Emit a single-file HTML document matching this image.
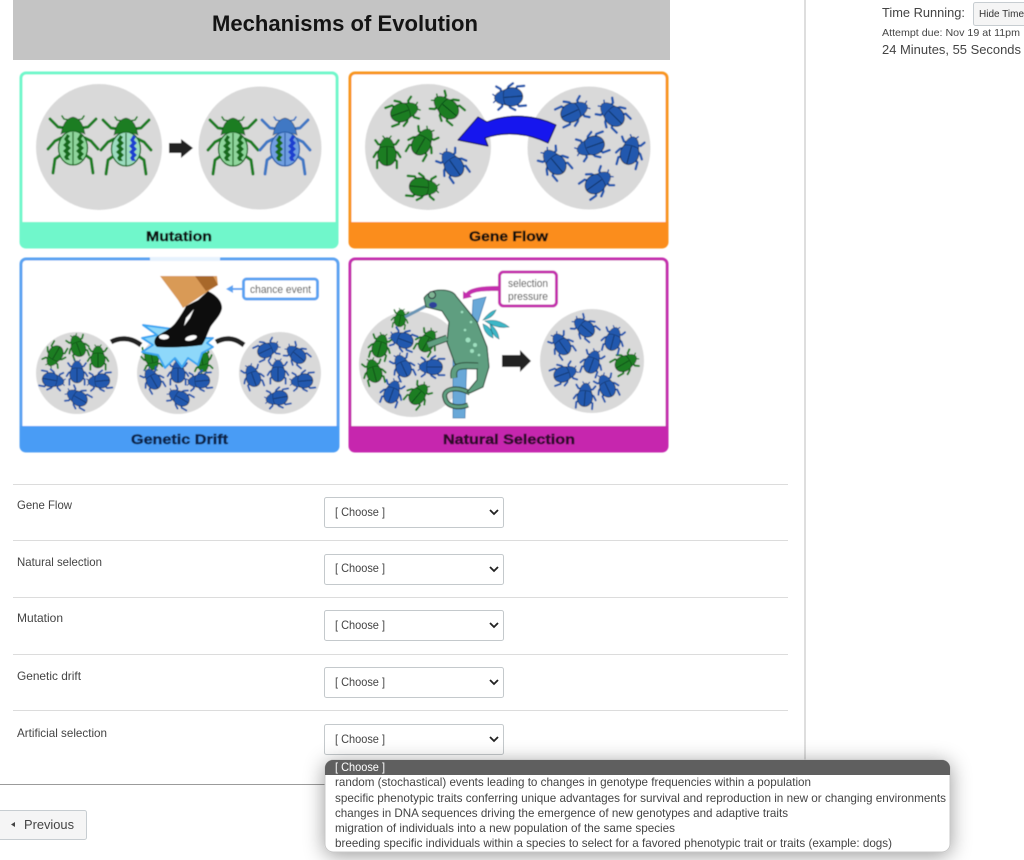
<!DOCTYPE html>
<html><head><meta charset="utf-8"><title>Mechanisms of Evolution</title>
<style>
html,body{margin:0;padding:0;background:#fff;width:1024px;height:860px;overflow:hidden}
svg{display:block}
text{font-family:"Liberation Sans",sans-serif;fill:#444}
.g{color:#1a7d24}.u{color:#2358ae}
.lab{font-weight:bold;font-size:14px;fill:#111;stroke:#111;stroke-width:.45;text-anchor:start}
.pt{fill:#d9d9d9}
</style></head><body>
<svg width="1024" height="860" viewBox="0 0 1024 860" xmlns="http://www.w3.org/2000/svg">
<defs>
<filter id="sh" x="-10%" y="-50%" width="120%" height="200%"><feDropShadow dx="0" dy="3" stdDeviation="10" flood-color="#000" flood-opacity=".4"/></filter>
<filter id="bl"><feGaussianBlur stdDeviation=".4"/></filter>
<g id="legs" fill="none" stroke="currentColor" stroke-width="3" stroke-linecap="round" stroke-linejoin="round">
<path d="M-8,-12 L-15,-13 L-23,-21"/><path d="M8,-12 L15,-13 L23,-21"/>
<path d="M-12,-2 L-18,1 L-25,9"/><path d="M12,-2 L18,1 L25,9"/>
<path d="M-11,14 L-18,19 L-20,33"/><path d="M11,14 L18,19 L20,33"/>
<path d="M-4,-20 L-9,-21 L-11,-24" stroke-width="1.6"/><path d="M4,-20 L9,-21 L11,-24" stroke-width="1.6"/>
</g>
<g id="legs2" fill="none" stroke="currentColor" stroke-width="4.2" stroke-linecap="round" stroke-linejoin="round">
<path d="M-8,-10 L-15,-11 L-20,-18"/><path d="M8,-10 L15,-11 L20,-18"/>
<path d="M-12,0 L-18,3 L-23,11"/><path d="M12,0 L18,3 L23,11"/>
<path d="M-11,14 L-17,18 L-17,30"/><path d="M11,14 L17,18 L17,30"/>
<path d="M-3,-20 L-7,-25" stroke-width="2.5"/><path d="M3,-20 L7,-25" stroke-width="2.5"/>
</g>
<g id="b"><g transform="translate(0,-4)">
<use href="#legs2"/>
<ellipse cx="0" cy="7" rx="16" ry="19" fill="currentColor" stroke="#000" stroke-opacity=".5" stroke-width="1.6"/>
<path d="M-13,-5 C-11,-16 -6,-22 0,-23 C6,-22 11,-16 13,-5 C6,-8 -6,-8 -13,-5Z" fill="currentColor" stroke="#000" stroke-opacity=".4" stroke-width="1.4"/>
<path d="M0,-6 V26" stroke="#000" stroke-opacity=".5" stroke-width="1.6"/>
</g></g>
<g id="bh">
<use href="#legs"/>
<path d="M-12,-6 C-10,-17 -6,-22 0,-23 C6,-22 10,-17 12,-6 C6,-9 -6,-9 -12,-6Z" fill="currentColor" stroke="#000" stroke-opacity=".3" stroke-width="1"/>
</g>
<path id="pat" d="M0,0 l3,2 -2,3 3,3 -3,3 3,3 -3,3 3,3 -3,3 2,3 h-4 l-2,-3 2,-3 -3,-3 3,-3 -3,-3 3,-3 -2,-3 2,-3z"/>
</defs>

<!-- right rail & rules -->
<line x1="805" y1="0" x2="805" y2="785" stroke="#bdbdbd" stroke-width="1"/>
<line x1="0" y1="784.5" x2="805" y2="784.5" stroke="#9b9b9b" stroke-width="1"/>

<!-- header -->
<rect x="13" y="0" width="657" height="60" fill="#c4c4c4"/>
<text x="212" y="31" font-size="22" font-weight="bold" style="fill:#141414" textLength="266" lengthAdjust="spacingAndGlyphs">Mechanisms of Evolution</text>

<g filter="url(#bl)">
<!-- Mutation panel -->
<rect x="21" y="73" width="316" height="174" rx="5" fill="#fff" stroke="#6ff7cb" stroke-width="3"/>
<path d="M20,222 H338 V243 a5,5 0 0 1 -5,5 H25 a5,5 0 0 1 -5,-5Z" fill="#6ff7cb"/>
<circle class="pt" cx="99" cy="147" r="63"/><circle class="pt" cx="260" cy="148" r="61.5"/>
<g class="g">
 <g transform="translate(73,140)"><use href="#bh"/><ellipse cy="8" rx="14.5" ry="17" fill="#8fd69c" stroke="#17661f" stroke-width="1.3"/><path d="M0,-8V25" stroke="#17661f" stroke-width="1.2"/><use href="#pat" x="-6" y="-6" fill="#176b1f"/><use href="#pat" x="7" y="-6" fill="#176b1f"/></g>
 <g transform="translate(126,141)"><use href="#bh"/><ellipse cy="8" rx="14.5" ry="17" fill="#9cdcc0" stroke="#17661f" stroke-width="1.3"/><path d="M0,-8V25" stroke="#17661f" stroke-width="1.2"/><use href="#pat" x="-6" y="-6" fill="#176b1f"/><use href="#pat" x="7" y="-6" fill="#1a3fd0"/></g>
 <g transform="translate(233,141)"><use href="#bh"/><ellipse cy="8" rx="14.5" ry="17" fill="#8fd69c" stroke="#17661f" stroke-width="1.3"/><path d="M0,-8V25" stroke="#17661f" stroke-width="1.2"/><use href="#pat" x="-6" y="-6" fill="#176b1f"/><use href="#pat" x="7" y="-6" fill="#176b1f"/></g>
</g>
<g transform="translate(285,141)" style="color:#3f78c4"><use href="#bh"/><ellipse cy="8" rx="14.5" ry="17" fill="#6f9ee0" stroke="#2a5ea8" stroke-width="1.3"/><path d="M0,-8V25" stroke="#2a5ea8" stroke-width="1.2"/><use href="#pat" x="-6" y="-6" fill="#176b1f"/><use href="#pat" x="7" y="-6" fill="#1a3fd0"/></g>
<path d="M169,143 H181 V139 L193,148 L181,158 V153 H169Z" fill="#222"/>
<text class="lab" x="146" y="241" textLength="66" lengthAdjust="spacingAndGlyphs">Mutation</text>

<!-- Gene Flow panel -->
<rect x="350" y="73" width="317" height="174" rx="5" fill="#fff" stroke="#f8951f" stroke-width="3"/>
<path d="M349,222 H668 V243 a5,5 0 0 1 -5,5 H354 a5,5 0 0 1 -5,-5Z" fill="#fb8d1e"/>
<circle class="pt" cx="428" cy="147" r="63"/><circle class="pt" cx="589" cy="148" r="61.5"/>
<g class="g">
<use href="#b" transform="translate(403,112) rotate(70) scale(.58)"/>
<use href="#b" transform="translate(447,108) rotate(-50) scale(.58)"/>
<use href="#b" transform="translate(422,143) rotate(30) scale(.58)"/>
<use href="#b" transform="translate(387,153) scale(.58)"/>
<use href="#b" transform="translate(422,187) rotate(95) scale(.58)"/>
</g>
<g class="u">
<use href="#b" transform="translate(453,165) rotate(-35) scale(.58)"/>
<use href="#b" transform="translate(510,97) rotate(-95) scale(.58)"/>
<use href="#b" transform="translate(573,112) rotate(65) scale(.58)"/>
<use href="#b" transform="translate(613,115) rotate(-45) scale(.58)"/>
<use href="#b" transform="translate(592,146) rotate(-110) scale(.58)"/>
<use href="#b" transform="translate(630,152) rotate(15) scale(.58)"/>
<use href="#b" transform="translate(555,163) rotate(-40) scale(.58)"/>
<use href="#b" transform="translate(597,183) rotate(55) scale(.58)"/>
</g>
<path d="M556,125 C535,115 510,113 487,122 L478,117 L458,140 L488,146 L485,138 C505,131 528,133 548,143Z" fill="#1717ee" stroke="#101060" stroke-width="1.2" stroke-linejoin="round"/>
<text class="lab" x="469" y="241" textLength="79" lengthAdjust="spacingAndGlyphs">Gene Flow</text>

<!-- Genetic Drift panel -->
<rect x="21" y="259" width="317" height="192" rx="5" fill="#fff" stroke="#5aa3f2" stroke-width="3"/>
<rect x="150" y="257" width="70" height="4" fill="#e6f2fd"/>
<path d="M20,426 H339 V447 a5,5 0 0 1 -5,5 H25 a5,5 0 0 1 -5,-5Z" fill="#4a9cf5"/>
<circle class="pt" cx="77" cy="373" r="41"/><circle class="pt" cx="178" cy="373" r="41"/><circle class="pt" cx="280" cy="373" r="41"/>
<g class="g">
<use href="#b" transform="translate(55,355) rotate(-150) scale(.45)"/>
<use href="#b" transform="translate(78,347) rotate(-20) scale(.45)"/>
<use href="#b" transform="translate(98,358) scale(.45)"/>
<use href="#b" transform="translate(152,358) rotate(170) scale(.45)"/>
<use href="#b" transform="translate(202,360) rotate(170) scale(.45)"/>
</g>
<g class="u">
<use href="#b" transform="translate(52,380) rotate(100) scale(.45)"/>
<use href="#b" transform="translate(77,373) scale(.45)"/>
<use href="#b" transform="translate(100,381) rotate(-95) scale(.45)"/>
<use href="#b" transform="translate(78,398) rotate(-60) scale(.45)"/>
<use href="#b" transform="translate(153,380) rotate(-30) scale(.45)"/>
<use href="#b" transform="translate(178,373) scale(.45)"/>
<use href="#b" transform="translate(200,381) rotate(-95) scale(.45)"/>
<use href="#b" transform="translate(180,398) rotate(-60) scale(.45)"/>
<use href="#b" transform="translate(267,350) rotate(65) scale(.45)"/>
<use href="#b" transform="translate(297,355) rotate(-50) scale(.45)"/>
<use href="#b" transform="translate(253,377) rotate(-20) scale(.45)"/>
<use href="#b" transform="translate(278,372) scale(.45)"/>
<use href="#b" transform="translate(303,381) rotate(-95) scale(.45)"/>
<use href="#b" transform="translate(278,398) rotate(-100) scale(.45)"/>
</g>
<path d="M143,325 L157,335 L142,338 L153,345 L142,352 L158,355 L165,368 L175,358 L182,367 L188,358 L198,365 L202,353 L213,347 L207,343 L213,338 L202,338 L180,330Z" fill="#8ed8fa" stroke="#3ba6f2" stroke-width="2" stroke-linejoin="round"/>
<path d="M160,276 H217 L218,285 L207,292 L183,308 L178,300Z" fill="#d99a57"/>
<path d="M195,276 H213 L218,285 L206,291Z" fill="#a8672c"/>
<path d="M208,291 C218,296 222,302 222,308 C221,316 213,322 210,328 C207,335 205,341 202,345 C190,347 170,348 157,347 C153,344 154,339 157,336 C165,331 172,328 176,322 C181,315 184,310 186,306 L198,300Z" fill="#111"/>
<path d="M186,318 L194,309 L190,318 L184,326Z" fill="#fff"/>
<ellipse cx="164" cy="337" rx="5" ry="2.5" fill="#fff"/><ellipse cx="191" cy="338" rx="6" ry="2.5" fill="#fff" transform="rotate(-15 191 338)"/>
<path d="M111,342 C120,337 130,338 138,343 L141,345" fill="none" stroke="#222" stroke-width="5"/>
<path d="M216,342 C225,337 234,338 241,343 L244,345" fill="none" stroke="#222" stroke-width="5"/>
<rect x="243.500" y="279" width="74" height="20" rx="3" fill="#fff" stroke="#5aa3f2" stroke-width="3"/>
<path d="M243,288 H233 V285 L226,289 L233,293 V290 H243Z" fill="#5aa3f2"/>
<text x="250" y="293" font-size="11" style="fill:#444" textLength="61" lengthAdjust="spacingAndGlyphs">chance event</text>
<text class="lab" x="131" y="444" style="fill:#0c2448;stroke:#0c2448" textLength="97" lengthAdjust="spacingAndGlyphs">Genetic Drift</text>

<!-- Natural Selection panel -->
<rect x="350" y="259" width="317" height="192" rx="5" fill="#fff" stroke="#c42fae" stroke-width="3"/>
<path d="M349,426 H668 V447 a5,5 0 0 1 -5,5 H354 a5,5 0 0 1 -5,-5Z" fill="#c626ae"/>
<circle class="pt" cx="412" cy="364" r="53"/><circle class="pt" cx="592" cy="361" r="52"/>
<g class="g">
<use href="#b" transform="translate(380,347) rotate(15) scale(.48)"/>
<use href="#b" transform="translate(427,342) rotate(30) scale(.48)"/>
<use href="#b" transform="translate(374,372) rotate(-15) scale(.48)"/>
<use href="#b" transform="translate(418,395) rotate(40) scale(.48)"/>
<use href="#b" transform="translate(400,319) rotate(10) scale(.36)"/>
<use href="#b" transform="translate(625,363) rotate(60) scale(.48)"/>
</g>
<g class="u">
<use href="#b" transform="translate(403,340) rotate(-70) scale(.48)"/>
<use href="#b" transform="translate(403,367) rotate(-25) scale(.48)"/>
<use href="#b" transform="translate(432,367) rotate(-90) scale(.48)"/>
<use href="#b" transform="translate(392,393) rotate(20) scale(.48)"/>
<use href="#b" transform="translate(585,328) rotate(-50) scale(.48)"/>
<use href="#b" transform="translate(562,345) rotate(-35) scale(.48)"/>
<use href="#b" transform="translate(613,340) rotate(15) scale(.48)"/>
<use href="#b" transform="translate(592,363) rotate(20) scale(.48)"/>
<use href="#b" transform="translate(564,374) rotate(70) scale(.48)"/>
<use href="#b" transform="translate(607,387) rotate(-25) scale(.48)"/>
<use href="#b" transform="translate(585,396) rotate(5) scale(.48)"/>
</g>
<!-- branch & leaves -->
<path d="M453,353 H467 L465,418 H453Z" fill="#69a8d8" stroke="#3d7db0" stroke-width=".8"/>
<path d="M473,300 L486,297 L478,322 L472,320Z" fill="#69a8d8" stroke="#3d7db0" stroke-width=".8"/>
<path d="M483,320 Q490,311 496,310 Q493,318 483,320Z M485,321 Q498,318 509,327 Q496,329 485,321Z M483,324 Q493,328 493,338 Q484,334 483,324Z M490,324 Q498,330 499,339 Q491,335 490,324Z" fill="#3cb6c6" stroke="#206d7a" stroke-width=".6"/>
<path d="M428,305 L405,317" stroke="#6a95b5" stroke-width="3" fill="none"/>
<!-- chameleon -->
<path d="M470,393 C455,385 442,390 445,398 C447,408 460,408 468,405" fill="none" stroke="#253a2b" stroke-width="5"/>
<path d="M470,393 C455,385 442,390 445,398 C447,408 460,408 468,405" fill="none" stroke="#5f9e80" stroke-width="3"/>
<path d="M424,298 C428,292 434,290 441,290 C448,290 454,292 456,296 L465,307 L477,322 L487,347 L489,367 L483,387 L470,393 L467,392 L477,380 L477,366 L455,364 L447,342 L449,322 L442,311 L434,309 L426,307Z" fill="#5f9e80" stroke="#2c4a38" stroke-width="1.1" stroke-linejoin="round"/>
<path d="M454,378 C452,365 460,365 478,366" fill="none" stroke="#2c4a38" stroke-width="7"/>
<path d="M454,378 C452,365 460,365 478,366" fill="none" stroke="#5f9e80" stroke-width="5"/>
<path d="M428,345 L447,338" stroke="#2c4a38" stroke-width="7"/>
<path d="M428,345 L447,338" stroke="#5f9e80" stroke-width="5"/>
<ellipse cx="433" cy="305" rx="4" ry="3" fill="#2f3f9a"/>
<circle cx="432" cy="295" r="3.500" fill="#7fb594" stroke="#223" stroke-width="1"/>
<g fill="#9fe0c0"><circle cx="462" cy="312" r="1.300"/><circle cx="471" cy="322" r="1.300"/><circle cx="465" cy="330" r="1.300"/><circle cx="468" cy="340" r="2.500"/><circle cx="475" cy="345" r="2"/><circle cx="472" cy="351" r="2"/><circle cx="479" cy="355" r="1.300"/></g>
<rect x="499.500" y="272" width="57" height="34" rx="4" fill="#fff" stroke="#c42fae" stroke-width="3"/>
<path d="M498,286 C480,286 470,288 466,293 L463,291 L463,299 L472,297 L470,295 C475,291 485,291 498,291Z" fill="#c42fae"/>
<text x="508" y="287" font-size="11" style="fill:#444" textLength="40" lengthAdjust="spacingAndGlyphs">selection</text>
<text x="508" y="300" font-size="11" style="fill:#444" textLength="40" lengthAdjust="spacingAndGlyphs">pressure</text>
<path d="M502,355 H520 V350 L531,361 L520,372 V367 H502Z" fill="#222"/>
<text class="lab" x="443" y="444" style="fill:#2c0a28;stroke:#2c0a28" textLength="132" lengthAdjust="spacingAndGlyphs">Natural Selection</text>
</g>

<!-- question rows -->
<g stroke="#dcdcdc" stroke-width="1">
<line x1="13" y1="484.500" x2="788" y2="484.500"/><line x1="13" y1="540.500" x2="788" y2="540.500"/><line x1="13" y1="597.500" x2="788" y2="597.500"/><line x1="13" y1="654.500" x2="788" y2="654.500"/><line x1="13" y1="710.500" x2="788" y2="710.500"/>
</g>
<g font-size="12">
<text x="17" y="509" textLength="55" lengthAdjust="spacingAndGlyphs">Gene Flow</text>
<text x="17" y="566" textLength="85" lengthAdjust="spacingAndGlyphs">Natural selection</text>
<text x="17" y="622" textLength="46" lengthAdjust="spacingAndGlyphs">Mutation</text>
<text x="17" y="680" textLength="64" lengthAdjust="spacingAndGlyphs">Genetic drift</text>
<text x="17" y="737" textLength="90" lengthAdjust="spacingAndGlyphs">Artificial selection</text>
</g>
<g fill="#fff" stroke="#c4c9cc">
<rect x="324.500" y="497.500" width="179" height="30" rx="2"/>
<rect x="324.500" y="554.500" width="179" height="30" rx="2"/>
<rect x="324.500" y="610.500" width="179" height="30" rx="2"/>
<rect x="324.500" y="667.500" width="179" height="30" rx="2"/>
<rect x="324.500" y="724.500" width="179" height="30" rx="2"/>
</g>
<g font-size="12">
<text x="335" y="516" textLength="50" lengthAdjust="spacingAndGlyphs">[ Choose ]</text>
<text x="335" y="572" textLength="50" lengthAdjust="spacingAndGlyphs">[ Choose ]</text>
<text x="335" y="629" textLength="50" lengthAdjust="spacingAndGlyphs">[ Choose ]</text>
<text x="335" y="686" textLength="50" lengthAdjust="spacingAndGlyphs">[ Choose ]</text>
<text x="335" y="743" textLength="50" lengthAdjust="spacingAndGlyphs">[ Choose ]</text>
</g>
<g fill="none" stroke="#222" stroke-width="1.800">
<path d="M490,510 L494,514 L498,510"/><path d="M490,567 L494,571 L498,567"/><path d="M490,623 L494,627 L498,623"/><path d="M490,680 L494,684 L498,680"/><path d="M490,737 L494,741 L498,737"/>
</g>

<!-- previous -->
<rect x="-2" y="810.500" width="88.500" height="29" rx="2" fill="#f5f5f5" stroke="#c7cdd1"/>
<path d="M11,824.500 L15,822 V827Z" fill="#444"/>
<text x="24" y="829" font-size="13" textLength="50" lengthAdjust="spacingAndGlyphs">Previous</text>

<!-- timer -->
<text x="882" y="17" font-size="13" textLength="83" lengthAdjust="spacingAndGlyphs">Time Running:</text>
<rect x="973.500" y="2.500" width="60" height="23" rx="2" fill="#f5f5f5" stroke="#c7cdd1"/>
<text x="979" y="17" font-size="10.500" textLength="45" lengthAdjust="spacingAndGlyphs" style="fill:#333">Hide Time</text>
<text x="882" y="36" font-size="10.500" textLength="138" lengthAdjust="spacingAndGlyphs">Attempt due: Nov 19 at 11pm</text>
<text x="882" y="54" font-size="13" textLength="139" lengthAdjust="spacingAndGlyphs">24 Minutes, 55 Seconds</text>

<!-- dropdown -->
<rect x="325" y="760" width="625" height="92" rx="8" fill="#fff" stroke="#c8c8c8" filter="url(#sh)"/>
<path d="M325,775 V768 a8,8 0 0 1 8,-8 H942 a8,8 0 0 1 8,8 V775Z" fill="#5f5f5f"/>
<text x="335" y="771" font-size="12" style="fill:#fff" textLength="50" lengthAdjust="spacingAndGlyphs">[ Choose ]</text>
<g font-size="12">
<text x="335" y="786" textLength="476" lengthAdjust="spacingAndGlyphs">random (stochastical) events leading to changes in genotype frequencies within a population</text>
<text x="335" y="802" textLength="611" lengthAdjust="spacingAndGlyphs">specific phenotypic traits conferring unique advantages for survival and reproduction in new or changing environments</text>
<text x="335" y="817" textLength="453" lengthAdjust="spacingAndGlyphs">changes in DNA sequences driving the emergence of new genotypes and adaptive traits</text>
<text x="335" y="832" textLength="340" lengthAdjust="spacingAndGlyphs">migration of individuals into a new population of the same species</text>
<text x="335" y="847" textLength="557" lengthAdjust="spacingAndGlyphs">breeding specific individuals within a species to select for a favored phenotypic trait or traits (example: dogs)</text>
</g>
</svg>
</body></html>
